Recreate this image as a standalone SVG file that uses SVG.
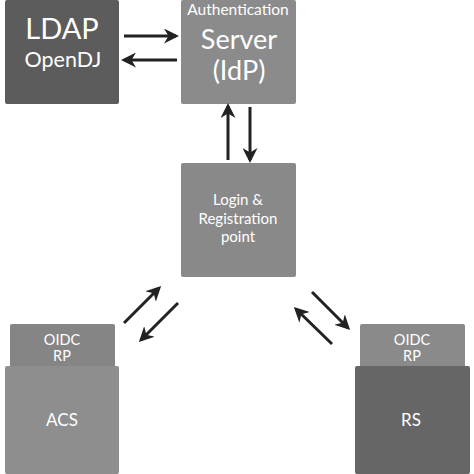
<svg xmlns="http://www.w3.org/2000/svg" width="474" height="474" viewBox="0 0 474 474">
<style>
text{font-family:Lato,"Open Sans",sans-serif;fill:#fff;text-anchor:middle}
.c{stroke:#222;stroke-width:3;fill:none;marker-end:url(#ah)}
</style>
<defs>
<marker id="ah" viewBox="0 0 10 10" refX="8" refY="5" markerWidth="5" markerHeight="5" orient="auto" markerUnits="strokeWidth">
<path d="M0,0 L10,5 L0,10 L3,5 Z" fill="#222"/>
</marker>
</defs>
<rect width="474" height="474" fill="#fff"/>
<g id="ldap">
<rect x="5" y="0" width="114" height="104" rx="2" fill="#5c5c5c"/>
<text x="62" y="39" font-size="29">LDAP</text>
<text x="63" y="67" font-size="21.5">OpenDJ</text>
</g>
<g id="auth">
<rect x="181" y="0" width="115" height="104" rx="2" fill="#8b8b8b"/>
<text x="238" y="15" font-size="15.5">Authentication</text>
<text x="239" y="49" font-size="27">Server</text>
<text x="239" y="80" font-size="27">(IdP)</text>
</g>
<g id="login">
<rect x="181" y="163" width="115" height="114" rx="2" fill="#898989"/>
<text x="238" y="205" font-size="15">Login &amp;</text>
<text x="238" y="224" font-size="15">Registration</text>
<text x="238" y="242" font-size="15">point</text>
</g>
<g id="acs">
<rect x="10" y="324" width="105" height="44" rx="2" fill="#858585"/>
<text x="62" y="345" font-size="14.5">OIDC</text>
<text x="62" y="361" font-size="14.5">RP</text>
<rect x="5" y="366" width="114" height="108" rx="2" fill="#8e8e8e"/>
<text x="62" y="426" font-size="17">ACS</text>
</g>
<g id="rs">
<rect x="360" y="324" width="105" height="44" rx="2" fill="#8a8a8a"/>
<text x="412" y="345" font-size="14.5">OIDC</text>
<text x="412" y="361" font-size="14.5">RP</text>
<rect x="355" y="366" width="115" height="108" rx="2" fill="#666"/>
<text x="411" y="426" font-size="17">RS</text>
</g>
<g id="connectors">
<line class="c" x1="124" y1="36" x2="176" y2="36"/>
<line class="c" x1="177" y1="60" x2="124" y2="60"/>
<line class="c" x1="228" y1="160" x2="228" y2="106"/>
<line class="c" x1="250" y1="107" x2="250" y2="160"/>
<line class="c" x1="124" y1="323" x2="159" y2="288"/>
<line class="c" x1="178" y1="303" x2="141" y2="340"/>
<line class="c" x1="312" y1="292" x2="348" y2="328"/>
<line class="c" x1="332" y1="344" x2="296" y2="309"/>
</g>
</svg>
